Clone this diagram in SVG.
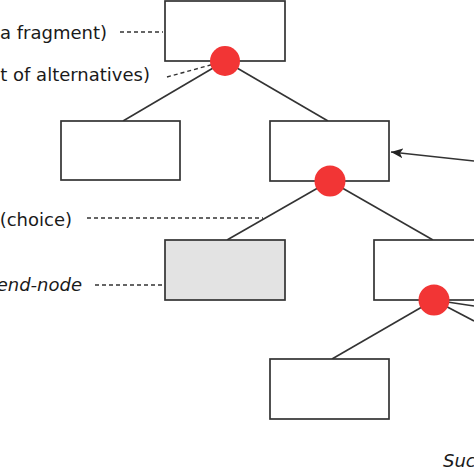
<svg xmlns="http://www.w3.org/2000/svg" width="474" height="474" viewBox="0 0 474 474">
<style>
.box{fill:#fff;stroke:#333;stroke-width:1.7}
.end{fill:#e3e3e3;stroke:#333;stroke-width:1.7}
.dot{fill:#f23535}
.edge{stroke:#333;stroke-width:1.6;fill:none}
.dash{stroke:#333;stroke-width:1.4;stroke-dasharray:4 3;fill:none}
.lbl{font-family:"DejaVu Sans",Verdana,sans-serif;font-size:18px;fill:#1a1a1a}
.it{font-style:italic}
</style>
<defs>
<marker id="ah" viewBox="0 0 12 10" refX="12" refY="5" markerWidth="12" markerHeight="10" markerUnits="userSpaceOnUse" orient="auto">
<path d="M12,5 L0,0 L3,5 L0,10 Z" fill="#222"/>
</marker>
</defs>
<rect width="474" height="474" fill="#fff"/>
<g id="connectors">
<line class="edge" x1="225" y1="61" x2="123" y2="121"/>
<line class="edge" x1="225" y1="61" x2="328" y2="121"/>
<line class="edge" x1="330" y1="181" x2="227" y2="240"/>
<line class="edge" x1="330" y1="181" x2="433" y2="240"/>
<line class="edge" x1="434" y1="300" x2="332" y2="359"/>
<line class="edge" x1="434" y1="300" x2="474" y2="306"/>
<line class="edge" x1="434" y1="300" x2="474" y2="321"/>
<line class="edge" x1="474" y1="161" x2="391" y2="152" marker-end="url(#ah)"/>
<line class="dash" x1="120" y1="32" x2="163" y2="32"/>
<line class="dash" x1="167" y1="77" x2="225" y2="61"/>
<line class="dash" x1="87" y1="218" x2="263" y2="218"/>
<line class="dash" x1="95" y1="285" x2="163" y2="285"/>
</g>
<g id="n-root"><rect class="box" x="165" y="1" width="120" height="60"/></g>
<g id="n-left"><rect class="box" x="61" y="121" width="119" height="59"/></g>
<g id="n-mid"><rect class="box" x="270" y="121" width="119" height="60"/></g>
<g id="n-end"><rect class="end" x="165" y="240" width="120" height="60"/></g>
<g id="n-right"><rect class="box" x="374" y="240" width="120" height="60"/></g>
<g id="n-bottom"><rect class="box" x="270" y="359" width="119" height="60"/></g>
<g id="choice1"><circle class="dot" cx="225" cy="61" r="15"/></g>
<g id="choice2"><circle class="dot" cx="330" cy="181" r="15.5"/></g>
<g id="choice3"><circle class="dot" cx="434" cy="300" r="15.5"/></g>
<g id="labels">
<text class="lbl" x="107" y="39" text-anchor="end">a fragment)</text>
<text class="lbl" x="150" y="81" text-anchor="end">t of alternatives)</text>
<text class="lbl" x="72" y="226" text-anchor="end">(choice)</text>
<text class="lbl it" x="82" y="291" text-anchor="end">end-node</text>
<text class="lbl it" x="443" y="467">Suc</text>
</g>
</svg>
